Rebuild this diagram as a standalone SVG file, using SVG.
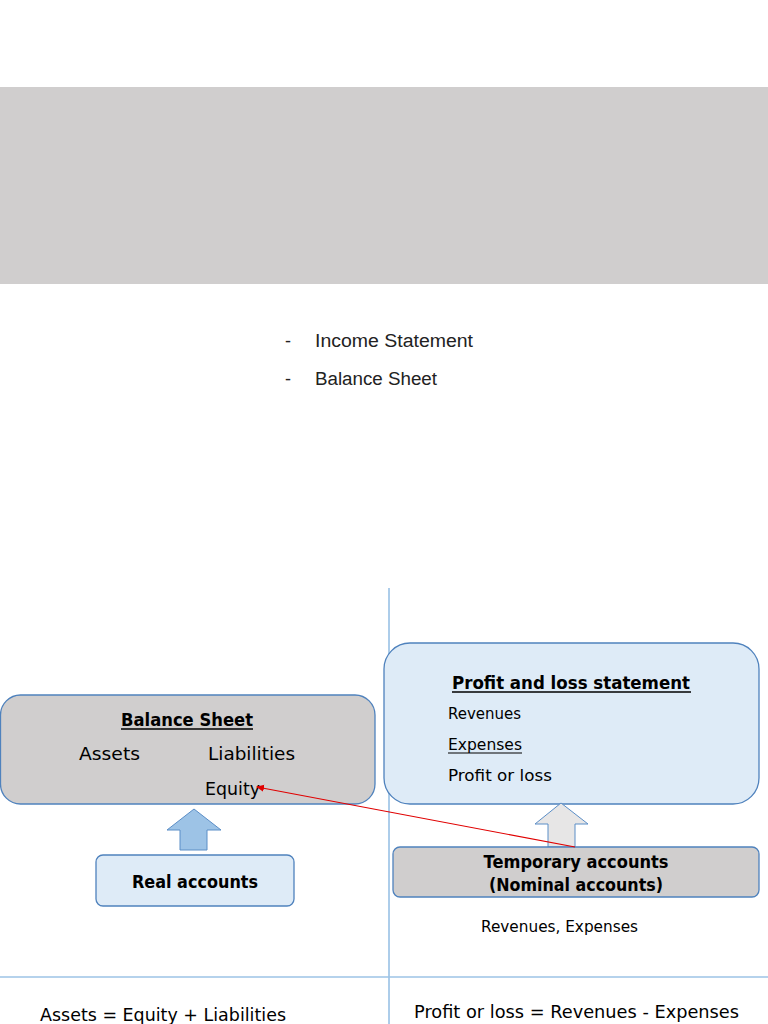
<svg xmlns="http://www.w3.org/2000/svg" width="768" height="1024" viewBox="0 0 768 1024">
<style>
.c{font-family:"DejaVu Sans","Liberation Sans",sans-serif;fill:#000}
.t{font-size:17px}
.b{font-size:17px;font-weight:bold}
.s{font-size:15px}
.cal{font-family:"Liberation Sans","Open Sans",sans-serif;font-size:18px;fill:#222}
.box{stroke:#4f82bd;stroke-width:1.3}
.gray{fill:#d0cece}
.blue{fill:#deebf7}
</style>
<defs>
<marker id="ah" markerWidth="8" markerHeight="8" refX="7" refY="4" orient="auto" markerUnits="userSpaceOnUse">
<path d="M0,0.5 L8,4 L0,7.5 Z" fill="#e00000"/>
</marker>
</defs>
<rect x="0" y="0" width="768" height="1024" fill="#fff"/>
<rect id="band" x="0" y="87" width="768" height="197" fill="#d0cece"/>
<g id="list">
<text class="cal" x="285" y="347">-</text>
<text class="cal" x="315" y="347" textLength="158" lengthAdjust="spacingAndGlyphs">Income Statement</text>
<text class="cal" x="285" y="385">-</text>
<text class="cal" x="315" y="385" textLength="122" lengthAdjust="spacingAndGlyphs">Balance Sheet</text>
</g>
<g id="dividers">
<line x1="389" y1="588" x2="389" y2="1024" stroke="#5b9bd5" stroke-width="1"/>
<line x1="0" y1="977" x2="768" y2="977" stroke="#9dc3e6" stroke-width="1.5"/>
</g>
<g id="balance-sheet">
<rect class="box gray" x="0.5" y="695" width="374.5" height="109" rx="20"/>
<text class="c b" x="187" y="726" text-anchor="middle" textLength="132" lengthAdjust="spacingAndGlyphs">Balance Sheet</text>
<line x1="121" y1="729" x2="253" y2="729" stroke="#000" stroke-width="1.3"/>
<text class="c t" x="79" y="760" textLength="61" lengthAdjust="spacingAndGlyphs">Assets</text>
<text class="c t" x="208" y="760" textLength="87" lengthAdjust="spacingAndGlyphs">Liabilities</text>
<text class="c t" x="205" y="795" textLength="55" lengthAdjust="spacingAndGlyphs">Equity</text>
</g>
<g id="real-arrow">
<path d="M194,809 L221,830 L207,830 L207,850 L180,850 L180,830 L167,830 Z" fill="#9dc3e6" stroke="#5b8ec7" stroke-width="1"/>
</g>
<g id="real-accounts">
<rect class="box blue" x="96" y="855" width="198" height="51" rx="7"/>
<text class="c b" x="195" y="888" text-anchor="middle" textLength="126" lengthAdjust="spacingAndGlyphs">Real accounts</text>
</g>
<g id="pl-statement">
<rect class="box blue" x="384" y="643" width="375" height="161" rx="26"/>
<text class="c b" x="571" y="689" text-anchor="middle" textLength="238" lengthAdjust="spacingAndGlyphs">Profit and loss statement</text>
<line x1="452" y1="692" x2="691" y2="692" stroke="#000" stroke-width="1.3"/>
<text class="c s" x="448" y="719" textLength="73" lengthAdjust="spacingAndGlyphs">Revenues</text>
<text class="c s" x="448" y="750" textLength="74" lengthAdjust="spacingAndGlyphs">Expenses</text>
<line x1="448" y1="753" x2="522" y2="753" stroke="#000" stroke-width="1.1"/>
<text class="c s" x="448" y="781" textLength="104" lengthAdjust="spacingAndGlyphs">Profit or loss</text>
</g>
<g id="temp-arrow">
<path d="M561,803 L588,824 L575,824 L575,847 L548,847 L548,824 L535,824 Z" fill="#e7e6e6" stroke="#5b8ec7" stroke-width="1"/>
</g>
<g id="temporary-accounts">
<rect class="box gray" x="393" y="847" width="366" height="50" rx="7"/>
<text class="c b" x="576" y="868" text-anchor="middle" textLength="185" lengthAdjust="spacingAndGlyphs">Temporary accounts</text>
<text class="c b" x="576" y="891" text-anchor="middle" textLength="174" lengthAdjust="spacingAndGlyphs">(Nominal accounts)</text>
<text class="c s" x="481" y="932" textLength="157" lengthAdjust="spacingAndGlyphs">Revenues, Expenses</text>
</g>
<g id="connectors">
<line x1="575" y1="847" x2="257" y2="787" stroke="#e00000" stroke-width="1.2" marker-end="url(#ah)"/>
</g>
<g id="formulas">
<text class="c t" x="40" y="1021" textLength="246" lengthAdjust="spacingAndGlyphs">Assets = Equity + Liabilities</text>
<text class="c t" x="414" y="1018" textLength="325" lengthAdjust="spacingAndGlyphs">Profit or loss = Revenues - Expenses</text>
</g>
</svg>
